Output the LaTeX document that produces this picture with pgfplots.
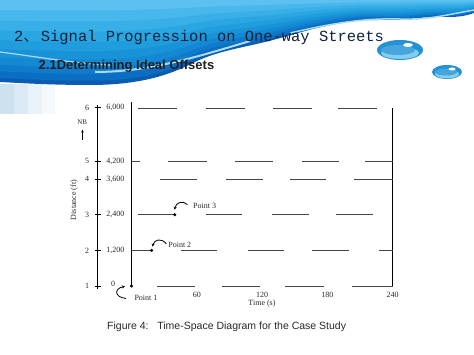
\documentclass[border=0pt]{standalone}
\usepackage{fontspec}
\setmainfont{Liberation Serif}
\newfontfamily\sansf{Liberation Sans}
\newfontfamily\monof{Liberation Mono}
\newfontfamily\cjk{Noto Sans CJK SC}
\usepackage{pgfplots}
\pgfplotsset{compat=1.18}
\usetikzlibrary{arrows.meta}
\definecolor{hA}{RGB}{10,92,178}
\definecolor{hB}{RGB}{10,110,194}
\definecolor{hC}{RGB}{15,124,203}
\definecolor{hD}{RGB}{20,136,210}
\definecolor{hE}{RGB}{25,147,216}
\definecolor{hF}{RGB}{32,157,221}
\definecolor{hG}{RGB}{42,166,226}
\definecolor{hH}{RGB}{56,175,231}
\definecolor{hI}{RGB}{72,183,235}
\definecolor{hJ}{RGB}{92,192,240}
\definecolor{titlec}{RGB}{15,35,60}
\definecolor{segc}{RGB}{70,70,70}
\definecolor{dropa}{RGB}{35,145,210}
\definecolor{dropb}{RGB}{130,205,240}
\definecolor{dropc}{RGB}{70,165,220}
\definecolor{fA}{RGB}{205,225,238}
\definecolor{fB}{RGB}{218,233,243}
\definecolor{fC}{RGB}{232,242,248}
\definecolor{fD}{RGB}{245,249,252}
\definecolor{wavel}{RGB}{170,218,240}
\definecolor{txt}{RGB}{40,40,40}
\definecolor{subc}{RGB}{30,30,30}
\tikzset{lab/.style={font=\fontsize{8}{9}\selectfont, text=txt}}
\begin{document}
\begin{tikzpicture}[x=1pt,y=1pt]
\useasboundingbox (0,0) rectangle (474,-355);
\fill[white] (0,0) rectangle (474,-355);
\fill[fA] (0,-84) rectangle (14,-114);
\fill[fB] (14,-84) rectangle (28,-114);
\fill[fC] (28,-84) rectangle (42,-114);
\fill[fD] (42,-84) rectangle (55,-114);
% header: explicit layers, outer (dark) to inner (light)
\foreach \c/\s in {hA/1.00,hB/0.95,hC/0.87,hD/0.79,hE/0.70,hF/0.60,hG/0.49,hH/0.37,hI/0.25,hJ/0.12}{
  \begin{scope}[yscale=\s]
  \fill[fill=\c] (0,0) -- (474,0) -- (474,-13)
    .. controls (455,-20) and (440,-15) .. (420,-18)
    .. controls (395,-22) and (370,-18) .. (347,-22)
    .. controls (310,-28) and (290,-36) .. (265,-42)
    .. controls (240,-48) and (215,-52) .. (195,-62)
    .. controls (170,-75) and (140,-85) .. (90,-85)
    .. controls (50,-85) and (20,-83) .. (0,-82) -- cycle;
  \end{scope}
}
\draw[wavel, line width=2pt] (95,-72) .. controls (150,-72) and (200,-56) .. (250,-41);
\draw[wavel, line width=1.2pt] (0,-52) .. controls (40,-57) and (70,-63) .. (110,-65);
\draw[wavel, line width=1.5pt] (290,-33) .. controls (330,-24) and (360,-18) .. (400,-19) .. controls (430,-20) and (450,-14) .. (474,-10);
% drops
\fill[dropa] (400,-50) ellipse (23 and 10);
\fill[dropb] (400,-53) ellipse (19 and 6);
\fill[dropc] (398,-50) ellipse (17 and 5);
\fill[white] (408,-45) ellipse (5 and 2);
\fill[dropa] (447,-72) ellipse (15 and 7);
\fill[dropb] (447,-74) ellipse (12 and 4.5);
\fill[dropc] (446,-72) ellipse (11 and 3.5);
\fill[white] (452,-69) ellipse (3.5 and 1.5);
% titles
\node[anchor=base west, inner sep=0pt, text=titlec] at (14,-42) {\fontsize{15.45}{18}\monof 2{\cjk 、}\hspace{2pt}Signal Progression on One-way Streets};
\node[anchor=base west, inner sep=0pt, text=subc] at (38.5,-70) {\fontsize{13}{15}\sansf\bfseries 2.1Determining Ideal Offsets};
\node[anchor=base west, inner sep=0pt, text=txt] at (107,-329.5) {\fontsize{10.5}{12}\sansf Figure 4:\ \ \ Time-Space Diagram for the Case Study};
\begin{axis}[
  at={(131.5pt,-286pt)}, anchor=south west,
  scale only axis, width=261pt, height=184pt,
  xmin=0, xmax=240, ymin=0, ymax=6200,
  axis line style={draw=none},
  major tick length=0pt,
  xtick={60,120,180,240}, xticklabels={60,120,180,240},
  ytick={1200,2400,3600,4200,6000},
  yticklabels={{1,200},{2,400},{3,600},{4,200},{6,000}},
  tick label style={font=\fontsize{8}{9}\selectfont, text=txt},
  xticklabel style={anchor=north, inner sep=0pt, yshift=-6pt},
  yticklabel style={anchor=east, inner sep=0pt, xshift=-7pt},
  clip=false,
  unbounded coords=jump,
  seg/.style={segc, line width=0.75pt},
]
% axes lines
\addplot[black, line width=0.8pt] coordinates {(0,0)(0,6200)};
\addplot[black, line width=0.8pt] coordinates {(240,0)(240,6000)};
% green bands
\addplot[seg] coordinates {(6,6000)(41.7,6000)(50,nan)(68.2,6000)(104,6000)(110,nan)(130.5,6000)(166,6000)(170,nan)(190,6000)(226,6000)};
\addplot[seg] coordinates {(0,4200)(7.5,4200)(20,nan)(33.4,4200)(69.2,4200)(80,nan)(95.6,4200)(130.4,4200)(140,nan)(156.8,4200)(190.7,4200)(200,nan)(214.6,4200)(240,4200)};
\addplot[seg] coordinates {(26.6,3600)(60.5,3600)(70,nan)(87.2,3600)(121,3600)(130,nan)(145.8,3600)(178.8,3600)(190,nan)(204.7,3600)(240,3600)};
\addplot[seg] coordinates {(6.2,2400)(39.8,2400)(50,nan)(68.2,2400)(101.9,2400)(110,nan)(129.3,2400)(162.8,2400)(170,nan)(188.5,2400)(222.4,2400)};
\addplot[seg] coordinates {(0,1200)(18.5,1200)(30,nan)(45.3,1200)(79,1200)(90,nan)(107,1200)(140,1200)(150,nan)(166,1200)(199.6,1200)(210,nan)(227.6,1200)(240,1200)};
\addplot[seg] coordinates {(23.6,0)(58.8,0)(70,nan)(83.5,0)(118.6,0)(130,nan)(141.5,0)(177.2,0)(190,nan)(202.7,0)(240,0)};
% signal axis
\addplot[black, line width=0.8pt] coordinates {(-31,-60)(-31,6100)};
\addplot[only marks, mark=+, mark size=2.8pt, mark options={line width=0.9pt, black}] coordinates {(-31,0)(-31,1200)(-31,2400)(-31,3600)(-31,4200)(-31,6000)};
% points
\addplot[only marks, mark=*, mark size=1.4pt, black] coordinates {(0,0)(18.5,1200)(39.8,2400)};
% labels
\node[lab] at (axis cs:-40.8,0) {1};
\node[lab] at (axis cs:-40.8,1200) {2};
\node[lab] at (axis cs:-40.8,2400) {3};
\node[lab] at (axis cs:-40.8,3600) {4};
\node[lab] at (axis cs:-40.8,4200) {5};
\node[lab] at (axis cs:-40.8,6000) {6};
\node[lab] at (axis cs:-16.9,60) {0};
\node[lab, font=\fontsize{7}{8}\selectfont] at (axis cs:-45.4,5533) {NB};
\draw[-{Stealth[length=3pt,width=2.5pt]}, line width=0.9pt] (axis cs:-45.1,4930) -- (axis cs:-45.1,5270);
\node[lab, rotate=90] at (axis cs:-52.7,2899) {Distance (ft)};
\node[lab] at (axis cs:120,-607) {Time (s)};
\node[lab] at (axis cs:13.3,-404) {Point 1};
\node[lab] at (axis cs:44.4,1382) {Point 2};
\node[lab] at (axis cs:67.3,2696) {Point 3};
\draw[-{Stealth[length=3pt,width=3pt]}, line width=0.8pt] (axis cs:-5,-420) .. controls (axis cs:-16,-380) and (axis cs:-16,-80) .. (axis cs:-6,-15);
\draw[-{Stealth[length=3pt,width=3pt]}, line width=0.8pt] (axis cs:32,1420) .. controls (axis cs:28,1620) and (axis cs:21,1580) .. (axis cs:19.3,1330);
\draw[-{Stealth[length=3pt,width=3pt]}, line width=0.8pt] (axis cs:51.5,2740) .. controls (axis cs:47,2900) and (axis cs:41,2820) .. (axis cs:39.6,2570);
\end{axis}
\end{tikzpicture}
\end{document}
